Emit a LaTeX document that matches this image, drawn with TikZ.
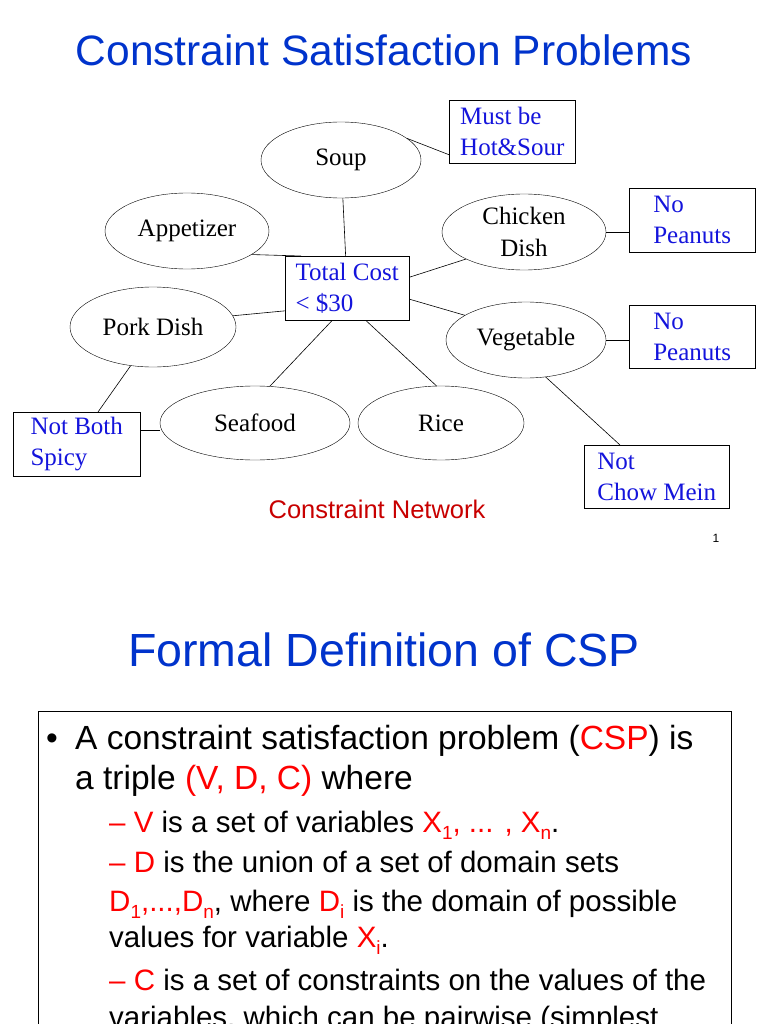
\documentclass[tikz,border=0pt]{standalone}
\usepackage{fontspec}
\usetikzlibrary{shapes.geometric}
\setmainfont{Liberation Serif}
\newfontfamily\arial{Liberation Sans}
\definecolor{tblue}{RGB}{0,51,204}
\definecolor{lblue}{RGB}{20,20,220}
\definecolor{cred}{RGB}{200,0,0}
\definecolor{bred}{RGB}{255,0,0}
\begin{document}
\begin{tikzpicture}[x=1pt,y=-1pt,
  cbox/.style={draw,align=left,text=lblue,font=\fontsize{25}{31}\selectfont,inner xsep=11pt,inner ysep=3pt,anchor=north west},
  ell/.style={draw,ellipse,font=\fontsize{25}{32}\selectfont,inner sep=0pt},
  con/.style={draw,line width=0.6pt}]
\useasboundingbox (0,0) rectangle (768,1024);
\clip (0,0) rectangle (768,1024);
\fill[white] (0,0) rectangle (768,1024);
\node[text=tblue,font=\arial\fontsize{42.5}{46}\selectfont] (t1) at (384,50) {Constraint Satisfaction Problems};
\node[ell,minimum width=160,minimum height=76] (soup) at (341,160) {Soup};
\node[ell,minimum width=164,minimum height=76] (app) at (187,231) {Appetizer};
\node[ell,minimum width=164,minimum height=76,align=center] (chick) at (524,232) {Chicken\\Dish};
\node[ell,minimum width=166,minimum height=80] (pork) at (153,327) {Pork Dish};
\node[ell,minimum width=160,minimum height=76] (veg) at (526,340) {Vegetable};
\node[ell,minimum width=190,minimum height=74] (sea) at (255,423) {Seafood};
\node[ell,minimum width=166,minimum height=74] (rice) at (441,423) {Rice};
\node[cbox,minimum width=124,minimum height=64,inner xsep=9pt] (tc) at (285,256) {Total Cost\\< \$30};
\node[cbox,minimum width=126,minimum height=63] (must) at (449,100) {Must be\\Hot\&Sour};
\node[cbox,minimum width=126,minimum height=64] (np1) at (629,188) {No\\Peanuts};
\node[cbox,minimum width=126,minimum height=63] (np2) at (629,305) {No\\Peanuts};
\node[cbox,minimum width=127,minimum height=64] (nbs) at (13,412) {Not Both\\Spicy};
\node[cbox,minimum width=145,minimum height=63] (ncm) at (584,445) {Not\\Chow Mein};
\draw[con] (soup) -- (tc);
\draw[con] (app.-20) -- (tc.145);
\draw[con] (chick.205) -- (tc.10);
\draw[con] (pork.8) -- (tc.200);
\draw[con] (veg.158) -- (tc.-10);
\draw[con] (sea.68) -- (tc.-115);
\draw[con] (rice.97) -- (tc.-60);
\draw[con] (soup.18) -- (must.200);
\draw[con] (chick.east) -- (np1.west|-chick.east);
\draw[con] (veg.east) -- (np2.west|-veg.east);
\draw[con] (pork.-120) -- (nbs.north-|98,0);
\draw[con] (sea.west|-0,430) -- (nbs.east|-0,430);
\draw[con] (veg.-62) -- (ncm.north-|620,0);
\node[text=cred,font=\arial\fontsize{25.5}{28}\selectfont] (cn) at (377,509) {Constraint Network};
\node[font=\arial\fontsize{12}{14}\selectfont] (p1) at (716,538) {1};
\node[text=tblue,font=\arial\fontsize{46.5}{50}\selectfont] (t2) at (384,650) {Formal Definition of CSP};
\node[draw,minimum width=693,minimum height=400,anchor=north west,line width=0.6pt] (frame) at (38,711) {};
\tikzset{bl/.style={anchor=base west,font=\arial\fontsize{33.5}{36}\selectfont,inner sep=0pt}}
\newcommand{\R}[1]{\textcolor{bred}{#1}}
\newcommand{\sub}[1]{\raisebox{-0.25em}{\fontsize{19}{20}\selectfont #1}}
\node[bl] (l0) at (46,749) {•};
\node[bl] (l1) at (75,749) {A constraint satisfaction problem (\R{CSP}) is};
\node[bl] (l2) at (75,789) {a triple \R{(V, D, C)} where};
\tikzset{sl/.style={anchor=base west,font=\arial\fontsize{29.5}{32}\selectfont,inner sep=0pt}}
\node[sl] (l3) at (109,832) {\R{– V} is a set of variables \R{X\sub{1}, ... , X\sub{n}}.};
\node[sl] (l4) at (109,872) {\R{– D} is the union of a set of domain sets};
\node[sl] (l5) at (109,911) {\R{D\sub{1},...,D\sub{n}}, where \R{D\sub{i}} is the domain of possible};
\node[sl] (l6) at (109,947) {values for variable \R{X\sub{i}}.};
\node[sl] (l7) at (109,990) {\R{– C} is a set of constraints on the values of the};
\node[sl] (l8) at (109,1027) {variables, which can be pairwise (simplest};
\end{tikzpicture}
\end{document}
